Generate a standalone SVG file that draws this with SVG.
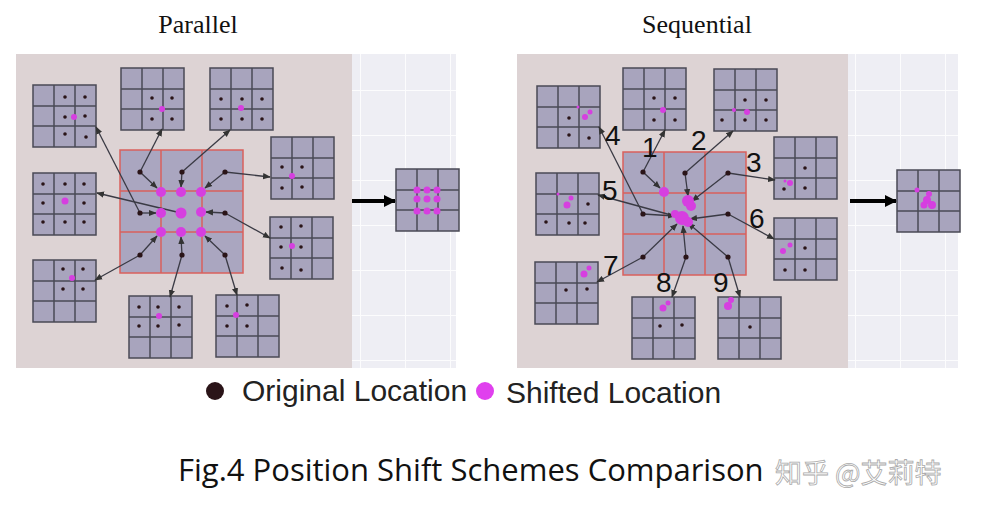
<svg xmlns="http://www.w3.org/2000/svg" xmlns:xlink="http://www.w3.org/1999/xlink" width="982" height="514" viewBox="0 0 982 514">
<style>
.bk{fill:#2a1418}.mg{fill:#d63fe0}.ln{stroke:#3a3a44;stroke-width:1.3;fill:none}
.num{font-family:"Liberation Sans",Arial,sans-serif;font-size:28px;fill:#111}
.ttl{font-family:"Liberation Serif",serif;font-size:26px;fill:#111;text-anchor:middle}
</style>
<defs>
<g id="sg"><rect x="0" y="0" width="63" height="62" fill="#a8a4bd" stroke="#4a4a55" stroke-width="1.5"/><path d="M21 0V62M42 0V62M0 21H63M0 41H63" stroke="#4a4a55" stroke-width="1.5"/></g>
<g id="big"><rect x="0" y="0" width="123" height="123" fill="#aaa6c0" stroke="#d9605c" stroke-width="1.5"/><path d="M41 0V123M82 0V123M0 41H123M0 82H123" stroke="#d9605c" stroke-width="1.5"/></g>
<marker id="ar" viewBox="0 0 10 10" refX="9" refY="5" markerWidth="6" markerHeight="6" orient="auto"><path d="M0 1L10 5L0 9z" fill="#333"/></marker>
<marker id="ab" viewBox="0 0 12 12" refX="11" refY="6" markerWidth="12" markerHeight="12" markerUnits="userSpaceOnUse" orient="auto"><path d="M0 0L12 6L0 12z" fill="#000"/></marker>
<pattern id="gp" width="45" height="45" patternUnits="userSpaceOnUse"><path d="M0 0H45M0 0V45" stroke="#ffffff" stroke-width="2" fill="none"/></pattern>
</defs>
<rect width="982" height="514" fill="#fff"/>
<text class="ttl" x="198" y="33">Parallel</text>
<text class="ttl" x="697" y="33">Sequential</text>
<rect x="16" y="54" width="440" height="314" fill="#eeeef4"/><rect x="16" y="54" width="440" height="314" fill="url(#gp)" opacity="0.8"/>
<rect x="16" y="54" width="336" height="314" fill="#ddd3d4"/>
<rect x="517" y="54" width="441" height="314" fill="#eeeef4"/><rect x="517" y="54" width="441" height="314" fill="url(#gp)" opacity="0.8"/>
<rect x="517" y="54" width="331" height="314" fill="#ddd3d4"/>
<g id="l-big"><use href="#big" x="120" y="150"/></g>
<g id="l-g1"><use href="#sg" x="33" y="85"/><g class="bk"><circle cx="65" cy="97" r="1.8"/><circle cx="85" cy="97" r="1.8"/><circle cx="65" cy="117" r="1.8"/><circle cx="85" cy="116" r="1.8"/><circle cx="65" cy="134" r="1.8"/><circle cx="86" cy="137" r="1.8"/></g><circle class="mg" cx="74" cy="117" r="3"/></g>
<g id="l-g2"><use href="#sg" x="121" y="68"/><g class="bk"><circle cx="152" cy="98" r="1.8"/><circle cx="172" cy="98" r="1.8"/><circle cx="152" cy="119" r="1.8"/><circle cx="172" cy="119" r="1.8"/></g><circle class="mg" cx="162" cy="109" r="3"/></g>
<g id="l-g3"><use href="#sg" x="210" y="68"/><g class="bk"><circle cx="221" cy="99" r="1.8"/><circle cx="242" cy="99" r="1.8"/><circle cx="262" cy="99" r="1.8"/><circle cx="221" cy="119" r="1.8"/><circle cx="242" cy="119" r="1.8"/><circle cx="262" cy="119" r="1.8"/></g><circle class="mg" cx="241" cy="108" r="3"/></g>
<g id="l-g4"><use href="#sg" x="271" y="137"/><g class="bk"><circle cx="282" cy="167" r="1.8"/><circle cx="302" cy="167" r="1.8"/><circle cx="282" cy="188" r="1.8"/><circle cx="302" cy="187" r="1.8"/></g><circle class="mg" cx="292" cy="176" r="3"/></g>
<g id="l-g5"><use href="#sg" x="33" y="173"/><g class="bk"><circle cx="43" cy="184" r="1.8"/><circle cx="65" cy="184" r="1.8"/><circle cx="84" cy="184" r="1.8"/><circle cx="43" cy="203" r="1.8"/><circle cx="84" cy="203" r="1.8"/><circle cx="43" cy="222" r="1.8"/><circle cx="65" cy="222" r="1.8"/><circle cx="84" cy="222" r="1.8"/></g><circle class="mg" cx="65" cy="201" r="3.5"/></g>
<g id="l-g6"><use href="#sg" x="270" y="217"/><g class="bk"><circle cx="281" cy="227" r="1.8"/><circle cx="301" cy="226" r="1.8"/><circle cx="281" cy="247" r="1.8"/><circle cx="301" cy="247" r="1.8"/><circle cx="282" cy="268" r="1.8"/><circle cx="301" cy="270" r="1.8"/></g><circle class="mg" cx="292" cy="246" r="3"/></g>
<g id="l-g7"><use href="#sg" x="33" y="260"/><g class="bk"><circle cx="63" cy="269" r="1.8"/><circle cx="83" cy="269" r="1.8"/><circle cx="63" cy="289" r="1.8"/><circle cx="83" cy="289" r="1.8"/></g><circle class="mg" cx="72" cy="278" r="3"/></g>
<g id="l-g8"><use href="#sg" x="129" y="296"/><g class="bk"><circle cx="139" cy="307" r="1.8"/><circle cx="158" cy="307" r="1.8"/><circle cx="179" cy="307" r="1.8"/><circle cx="139" cy="326" r="1.8"/><circle cx="158" cy="326" r="1.8"/><circle cx="179" cy="325" r="1.8"/></g><circle class="mg" cx="159" cy="316" r="3"/></g>
<g id="l-g9"><use href="#sg" x="216" y="295"/><g class="bk"><circle cx="227" cy="306" r="1.8"/><circle cx="247" cy="305" r="1.8"/><circle cx="227" cy="326" r="1.8"/><circle cx="247" cy="326" r="1.8"/></g><circle class="mg" cx="236" cy="315" r="3"/></g>
<g id="l-res"><use href="#sg" x="396" y="169"/><g class="mg"><circle cx="417" cy="190" r="3.5"/><circle cx="427" cy="190" r="3.5"/><circle cx="437" cy="190" r="3.5"/><circle cx="417" cy="199" r="3.5"/><circle cx="427" cy="199" r="3.5"/><circle cx="437" cy="199" r="3.5"/><circle cx="417" cy="211" r="3.5"/><circle cx="427" cy="211" r="3.5"/><circle cx="437" cy="211" r="3.5"/></g></g>
<g id="l-conn" class="ln" marker-end="url(#ar)">
<path d="M140 172L162 129"/><path d="M182 172L230 130"/><path d="M225 172L270 177"/>
<path d="M140 213L96 127"/><path d="M225 213L270 238"/><path d="M181 213L97 193"/>
<path d="M140 255L95 280"/><path d="M182 255L170 297"/><path d="M225 255L237 295"/>
<path d="M140 172L157 188"/><path d="M182 172L181 187"/><path d="M225 172L205 188"/><path d="M140 213L156 213"/><path d="M225 213L206 212"/><path d="M140 255L157 236"/><path d="M182 255L181 237"/><path d="M225 255L205 236"/>
<path d="M352 201H395" stroke="#000" stroke-width="4" marker-end="url(#ab)"/>
</g>
<g id="l-dots"><g class="bk"><circle cx="140" cy="172" r="2.6"/><circle cx="182" cy="172" r="2.6"/><circle cx="225" cy="172" r="2.6"/><circle cx="140" cy="213" r="2.6"/><circle cx="225" cy="213" r="2.6"/><circle cx="140" cy="255" r="2.6"/><circle cx="182" cy="255" r="2.6"/><circle cx="225" cy="255" r="2.6"/></g>
<g class="mg"><circle cx="161" cy="192" r="5"/><circle cx="181" cy="192" r="5"/><circle cx="201" cy="192" r="5"/><circle cx="161" cy="213" r="5"/><circle cx="181" cy="213" r="5.5"/><circle cx="201" cy="212" r="5"/><circle cx="161" cy="232" r="5"/><circle cx="181" cy="232" r="5"/><circle cx="201" cy="232" r="5"/></g></g>
<g id="r-big"><use href="#big" x="623" y="152"/></g>
<g id="r-g4"><use href="#sg" x="537" y="86"/><g class="bk"><circle cx="569" cy="118" r="1.8"/><circle cx="569" cy="135" r="1.8"/><circle cx="589" cy="138" r="1.8"/></g><g class="mg"><circle cx="585" cy="117" r="3"/><circle cx="590" cy="112" r="2.5"/><circle cx="578" cy="107" r="1.5"/></g></g>
<g id="r-g1"><use href="#sg" x="623" y="68"/><g class="bk"><circle cx="654" cy="98" r="1.8"/><circle cx="675" cy="98" r="1.8"/><circle cx="654" cy="120" r="1.8"/><circle cx="675" cy="120" r="1.8"/></g><circle class="mg" cx="663" cy="110" r="3"/></g>
<g id="r-g2"><use href="#sg" x="714" y="69"/><g class="bk"><circle cx="745" cy="100" r="1.8"/><circle cx="766" cy="100" r="1.8"/><circle cx="722" cy="120" r="1.8"/><circle cx="745" cy="120" r="1.8"/><circle cx="766" cy="120" r="1.8"/></g><g class="mg"><circle cx="747" cy="112" r="3"/><circle cx="734" cy="110" r="2"/></g></g>
<g id="r-g3"><use href="#sg" x="774" y="137"/><g class="bk"><circle cx="805" cy="168" r="1.8"/><circle cx="784" cy="189" r="1.8"/><circle cx="805" cy="188" r="1.8"/></g><g class="mg"><circle cx="790" cy="183" r="3"/><circle cx="785" cy="181" r="1.5"/></g></g>
<g id="r-g5"><use href="#sg" x="536" y="173"/><g class="bk"><circle cx="588" cy="204" r="1.8"/><circle cx="546" cy="222" r="1.8"/><circle cx="569" cy="223" r="1.8"/><circle cx="585" cy="223" r="1.8"/></g><g class="mg"><circle cx="567" cy="205" r="3.5"/><circle cx="571" cy="198" r="2.5"/><circle cx="558" cy="194" r="1.5"/></g></g>
<g id="r-g6"><use href="#sg" x="774" y="218"/><g class="bk"><circle cx="805" cy="248" r="1.8"/><circle cx="785" cy="270" r="1.8"/><circle cx="805" cy="270" r="1.8"/></g><g class="mg"><circle cx="783" cy="251" r="3"/><circle cx="790" cy="245" r="2.5"/></g></g>
<g id="r-g7"><use href="#sg" x="535" y="262"/><g class="bk"><circle cx="566" cy="290" r="1.8"/><circle cx="587" cy="289" r="1.8"/></g><g class="mg"><circle cx="584" cy="274" r="3.5"/><circle cx="589" cy="268" r="2.5"/></g></g>
<g id="r-g8"><use href="#sg" x="632" y="297"/><g class="bk"><circle cx="660" cy="326" r="1.8"/><circle cx="682" cy="325" r="1.8"/></g><g class="mg"><circle cx="663" cy="308" r="3.5"/><circle cx="668" cy="303" r="2.5"/></g></g>
<g id="r-g9"><use href="#sg" x="718" y="297"/><circle class="bk" cx="750" cy="327" r="1.8"/><g class="mg"><circle cx="728" cy="306" r="4"/><circle cx="731" cy="300" r="3"/></g></g>
<g id="r-res"><use href="#sg" x="897" y="170"/><g class="mg"><circle cx="927" cy="200" r="4"/><circle cx="932" cy="205" r="4"/><circle cx="924" cy="205" r="3.5"/><circle cx="929" cy="194" r="3"/><circle cx="917" cy="190" r="2.5"/></g></g>
<g id="r-conn" class="ln" marker-end="url(#ar)">
<path d="M643 172L665 130"/><path d="M685 173L733 131"/><path d="M728 173L775 180"/>
<path d="M643 214L599 127"/><path d="M682 218L598 195"/><path d="M728 214L774 239"/>
<path d="M643 257L597 282"/><path d="M686 257L672 297"/><path d="M728 257L740 297"/>
<path d="M643 172L660 188"/><path d="M685 173L688 196"/><path d="M728 173L692 201"/><path d="M643 214L675 216"/><path d="M728 214L690 219"/><path d="M643 257L677 224"/><path d="M686 257L683 226"/><path d="M728 257L688 223"/>
<path d="M850 201H896" stroke="#000" stroke-width="4" marker-end="url(#ab)"/>
</g>
<g id="r-dots"><g class="bk"><circle cx="643" cy="172" r="2.6"/><circle cx="685" cy="173" r="2.6"/><circle cx="728" cy="173" r="2.6"/><circle cx="643" cy="214" r="2.6"/><circle cx="728" cy="214" r="2.6"/><circle cx="643" cy="257" r="2.6"/><circle cx="686" cy="257" r="2.6"/><circle cx="728" cy="257" r="2.6"/></g>
<g class="mg"><circle cx="664" cy="192" r="5"/><circle cx="688" cy="201" r="6"/><circle cx="691" cy="206" r="5"/><circle cx="682" cy="218" r="7"/><circle cx="675" cy="214" r="4"/><circle cx="688" cy="222" r="5"/></g></g>
<g id="r-nums" class="num"><text x="605" y="145">4</text><text x="642" y="157">1</text><text x="691" y="150">2</text><text x="746" y="172">3</text><text x="602" y="200">5</text><text x="749" y="228">6</text><text x="603" y="275">7</text><text x="656" y="292">8</text><text x="713" y="292">9</text></g>
<g id="legend" font-family="Liberation Sans,Arial,sans-serif" font-size="30" fill="#222"><circle cx="215" cy="391" r="9" fill="#2a1418"/><text x="242" y="401">Original Location</text><circle cx="485" cy="391" r="9" fill="#e040ee"/><text x="506" y="403">Shifted Location</text></g>
<text x="178" y="481" font-family="Open Sans,Noto Sans,sans-serif" font-size="31" fill="#111">Fig.4 Position Shift Schemes Comparison</text>
<text x="775" y="483" font-family="Noto Sans CJK SC,sans-serif" font-size="27" fill="#fff" stroke="#aaa" stroke-width="0.8">知乎 @艾莉特</text>
</svg>
